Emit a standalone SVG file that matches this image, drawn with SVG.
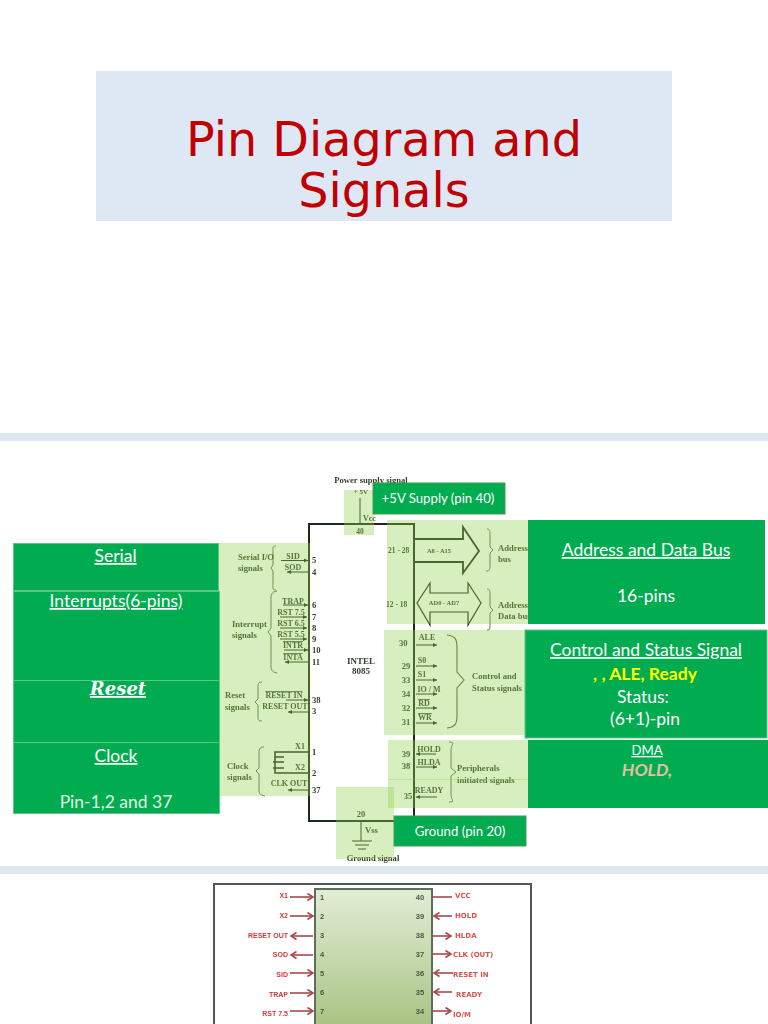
<svg xmlns="http://www.w3.org/2000/svg" width="768" height="1024" viewBox="0 0 768 1024">
<style>
.g{fill:#00ac4f}
.gs{stroke:#5cc688;stroke-width:1}
.t{font-family:Lato,"Open Sans",sans-serif;font-size:17.5px;fill:#fff;text-anchor:middle}
.sm{font-size:13.2px}
.tp{fill:#e3f5e6}
.u{text-decoration:underline}
.f{font-family:"Liberation Serif",serif;font-weight:bold;font-size:8.6px;fill:#333f2a}
.fm{text-anchor:middle}
.l{fill:none;stroke:#1f2a1a;stroke-width:1}
.thin{stroke-width:1.1}
.b{fill:none;stroke:#4d6042;stroke-width:.9}
.rg{fill:#92d050;opacity:.37}
.r{font-family:"Liberation Sans",sans-serif;font-weight:bold;font-size:7px;fill:#cf3a3a;text-anchor:end}
.rs{font-family:"DejaVu Sans",sans-serif;font-weight:bold;font-size:7px;fill:#d9534f}
.n{font-family:"Liberation Sans",sans-serif;font-size:7.5px;font-weight:bold;fill:#4a5540;text-anchor:middle}
.a{fill:none;stroke:#a8484a;stroke-width:1.6}
</style>
<defs>
<linearGradient id="chip" x1="0" y1="0" x2="0" y2="1"><stop offset="0" stop-color="#e2edd6"/><stop offset="1" stop-color="#a3c07c"/></linearGradient>
<marker id="h" markerWidth="5" markerHeight="5" refX="4" refY="2.5" orient="auto" markerUnits="userSpaceOnUse"><path d="M0 .5L4 2.5L0 4.500z" fill="#1f2a1a"/></marker>
<marker id="rh" markerWidth="9" markerHeight="9" refX="6.5" refY="4.5" orient="auto" markerUnits="userSpaceOnUse"><path d="M1 1L6.500 4.500L1 8" fill="none" stroke="#a8484a" stroke-width="1.6"/></marker>
<filter id="soft" x="-5%" y="-5%" width="110%" height="110%"><feGaussianBlur stdDeviation="0.42"/></filter>
</defs>
<rect width="768" height="1024" fill="#fff"/>
<g id="title">
<rect x="96" y="71" width="576" height="150" fill="#dde8f4"/>
<text x="384" y="156" font-family="'DejaVu Sans',sans-serif" font-size="47.700" fill="#c00000" text-anchor="middle">Pin Diagram and</text>
<text x="384" y="207" font-family="'DejaVu Sans',sans-serif" font-size="47.700" fill="#c00000" text-anchor="middle">Signals</text>
</g>
<g id="bands">
<rect x="0" y="433" width="768" height="8" fill="#dde8f4"/>
<rect x="0" y="866" width="768" height="8" fill="#dde8f4"/>
</g>
<g id="connectors" filter="url(#soft)">
<path class="l" style="stroke-width:2" d="M394 821H309V524H414V821"/>
<path class="l" d="M360 498V524M361 821V841M352 841H372M355 845H369M358 849H366"/>
<path class="l" d="M281 560.500H308" marker-end="url(#h)"/><path class="l" d="M308 572H287" marker-end="url(#h)"/>
<path class="l" d="M283 605H308" marker-end="url(#h)"/><path class="l" d="M280 617H307" marker-end="url(#h)"/><path class="l" d="M280 628H307" marker-end="url(#h)"/><path class="l" d="M280 639H307" marker-end="url(#h)"/><path class="l" d="M284 650H308" marker-end="url(#h)"/><path class="l" d="M308 662H285" marker-end="url(#h)"/>
<path class="l" d="M286 700H308" marker-end="url(#h)"/><path class="l" d="M308 712H288" marker-end="url(#h)"/><path class="l" d="M308 790H288" marker-end="url(#h)"/>
<path class="l" d="M416 645H437" marker-end="url(#h)"/><path class="l" d="M416 666H437" marker-end="url(#h)"/><path class="l" d="M416 680H437" marker-end="url(#h)"/><path class="l" d="M416 694H437" marker-end="url(#h)"/><path class="l" d="M416 708H437" marker-end="url(#h)"/><path class="l" d="M416 723H437" marker-end="url(#h)"/>
<path class="l" d="M436 754H416" marker-end="url(#h)"/><path class="l" d="M416 767H437" marker-end="url(#h)"/><path class="l" d="M437 797H416" marker-end="url(#h)"/>
<path class="l" style="stroke-width:1.6" d="M308 752H275V757H284M275 757V768M273 762H284M273 768H284M275 768V773H308"/>
<path class="l" style="stroke-width:1.8" d="M414 539H463V527L479 551L463 573V562H414"/>
<path class="l" style="stroke-width:1.2" d="M430 593V583L417 603L430 625V612H468V625L481 603L468 583V593Z"/>
<path class="b" d="M276 546C272 546 273 548 273 552V565L271 568L273 571V584C273 588 272 590 276 590"/>
<path class="b" d="M277 591C271 592 271 595 271 600V628L268 632L271 636V664C271 669 271 672 277 673"/>
<path class="b" d="M262 682C258 682 258 684 258 688V699L255 702L258 705V716C258 720 258 721 262 721"/>
<path class="b" d="M264 747C259 747 259 750 259 754V768L256 771L259 774V788C259 793 259 795 265 796"/>
<path class="b" d="M487 529C490 529 490 531 490 535V547L493 550L490 553V565C490 569 490 571 486 571"/>
<path class="b" d="M487 589C490 589 490 591 490 595V607L493 610L490 613V625C490 629 490 630 487 630"/>
<path class="b" style="stroke-width:1.1" d="M447 635C456 636 457 640 457 648V672L464 680L457 688V715C457 723 456 727 447 728"/>
<path class="b" d="M449 742C456 742 451 745 451 750V768L456 772L451 776V795C451 800 456 802 449 802"/>
</g>
<g id="figure-labels" filter="url(#soft)">
<text class="f fm" x="371" y="483">Power supply signal</text>
<text class="f fm" x="361" y="494" style="font-size:7px">+ 5V</text><text class="f" x="363" y="521" style="font-size:8px">Vcc</text><text class="f fm" x="360" y="534" style="font-size:7.500px">40</text>
<text class="f" x="238" y="560">Serial I/O</text><text class="f" x="238" y="571">signals</text>
<text class="f" x="232" y="627">Interrupt</text><text class="f" x="232" y="638">signals</text>
<text class="f" x="225" y="698">Reset</text><text class="f" x="225" y="710">signals</text>
<text class="f" x="227" y="769">Clock</text><text class="f" x="227" y="780">signals</text>
<text class="f fm" x="293" y="559" style="font-size:8px">SID</text><text class="f fm" x="293" y="570" style="font-size:8px">SOD</text>
<text class="f fm" x="293" y="604" style="font-size:8px">TRAP</text><text class="f fm" x="291" y="615" style="font-size:8px">RST 7.5</text><text class="f fm" x="291" y="626" style="font-size:8px">RST 6.5</text><text class="f fm" x="291" y="637" style="font-size:8px">RST 5.5</text><text class="f fm" x="293" y="648" style="font-size:8px" text-decoration="overline">INTR</text><text class="f fm" x="293" y="660" style="font-size:8px" text-decoration="overline">INTA</text>
<text class="f fm" x="284" y="698" style="font-size:8px" text-decoration="overline">RESET IN</text><text class="f fm" x="285" y="709" style="font-size:8px">RESET OUT</text>
<text class="f fm" x="300" y="749" style="font-size:8px">X1</text><text class="f fm" x="300" y="770" style="font-size:8px">X2</text><text class="f fm" x="289" y="786" style="font-size:8px">CLK OUT</text>
<g style="font-size:8px"><text class="f" x="312" y="563">5</text><text class="f" x="312" y="575">4</text><text class="f" x="312" y="608">6</text><text class="f" x="312" y="620">7</text><text class="f" x="312" y="631">8</text><text class="f" x="312" y="642">9</text><text class="f" x="312" y="653">10</text><text class="f" x="312" y="665">11</text><text class="f" x="312" y="703">38</text><text class="f" x="312" y="714">3</text><text class="f" x="312" y="755">1</text><text class="f" x="312" y="776">2</text><text class="f" x="312" y="793">37</text></g>
<text class="f fm" x="361" y="817">20</text><text class="f" x="365" y="833">Vss</text><text class="f fm" x="373" y="861">Ground signal</text>
<text class="f" x="388" y="553" style="font-size:7.500px">21 - 28</text><text class="f" x="386" y="607" style="font-size:7.500px">12 - 18</text>
<text class="f fm" x="439" y="553" style="font-size:6.500px">A8 - A15</text><text class="f fm" x="444" y="605" style="font-size:6.500px">AD0 - AD7</text>
<text class="f" x="498" y="551">Address</text><text class="f" x="498" y="562">bus</text><text class="f" x="498" y="608">Address</text><text class="f" x="498" y="619">Data bus</text>
<text class="f" x="399" y="646">30</text><text class="f fm" x="406" y="669">29</text><text class="f fm" x="406" y="683">33</text><text class="f fm" x="406" y="697">34</text><text class="f fm" x="406" y="711">32</text><text class="f fm" x="406" y="725">31</text>
<text class="f fm" x="427" y="640" style="font-size:8px">ALE</text><text class="f fm" x="422" y="663" style="font-size:8px">S0</text><text class="f fm" x="422" y="677" style="font-size:8px">S1</text><text class="f fm" x="429" y="692" style="font-size:8px">IO / M</text><text class="f fm" x="424" y="706" style="font-size:8px" text-decoration="overline">RD</text><text class="f fm" x="425" y="720" style="font-size:8px" text-decoration="overline">WR</text>
<text class="f" x="472" y="679">Control and</text><text class="f" x="472" y="691">Status signals</text>
<text class="f fm" x="406" y="757">39</text><text class="f fm" x="406" y="769">38</text><text class="f fm" x="408" y="799">35</text>
<text class="f fm" x="429" y="752" style="font-size:8px">HOLD</text><text class="f fm" x="429" y="765" style="font-size:8px">HLDA</text><text class="f fm" x="429" y="793" style="font-size:8px">READY</text>
<text class="f" x="457" y="771">Peripherals</text><text class="f" x="457" y="783">initiated signals</text>
<text class="f fm" x="361" y="664" style="font-size:9px">INTEL</text><text class="f fm" x="361" y="674" style="font-size:9px">8085</text>
</g>
<g id="highlights">
<rect class="rg" x="219" y="543" width="91" height="135"/>
<rect class="rg" x="220" y="678" width="90" height="118"/>
<rect class="rg" x="344" y="490" width="30" height="45"/>
<rect class="rg" x="387" y="520" width="141" height="104"/>
<rect class="rg" x="384" y="630" width="141" height="105"/>
<rect class="rg" x="388" y="740" width="140" height="40"/>
<rect class="rg" x="388" y="779" width="140" height="29"/>
<rect class="rg" x="336" y="787" width="58" height="72"/>
</g>
<g id="power-box"><rect class="g" x="373" y="483" width="132" height="31" stroke="#4a9a55"/><text class="t sm" x="438" y="503">+5V Supply (pin 40)</text></g>
<g id="ground-box"><rect class="g" x="394" y="816" width="132" height="30" stroke="#4a9a55"/><text class="t sm" x="460" y="836">Ground (pin 20)</text></g>
<g id="serial"><rect class="g gs" x="13.500" y="543.500" width="205" height="47"/><text class="t u" x="115.500" y="562">Serial</text></g>
<g id="interrupts"><rect class="g gs" x="13.500" y="591.500" width="206" height="89"/><text class="t u" x="116" y="607">Interrupts(6-pins)</text></g>
<g id="reset"><rect class="g gs" x="13.500" y="680.500" width="206" height="62"/><text x="118" y="695" font-family="'DejaVu Serif',serif" font-weight="bold" font-style="italic" font-size="18" fill="#fff" text-anchor="middle" text-decoration="underline">Reset</text></g>
<g id="clock"><rect class="g gs" x="13.500" y="742.500" width="206" height="71"/><text class="t u" x="116" y="762">Clock</text><text class="t tp" x="116" y="808">Pin-1,2 and 37</text></g>
<g id="address-bus"><rect class="g" x="528" y="520" width="237" height="104"/><text class="t u" x="646" y="556">Address and Data Bus</text><text class="t" x="646" y="602">16-pins</text></g>
<g id="control-status"><rect class="g gs" x="525" y="630" width="242" height="108"/><text class="t u" x="646" y="656">Control and Status Signal</text><text class="t" x="645" y="680" style="fill:#ffff00;font-weight:bold">, , ALE, Ready</text><text class="t" x="643" y="703">Status:</text><text class="t" x="645" y="725">(6+1)-pin</text></g>
<g id="dma"><rect class="g" x="528" y="740" width="240" height="68"/><text class="t u sm" x="647" y="755">DMA</text><text class="t" x="647" y="776" style="fill:#e6bfa8;font-weight:bold;font-style:italic">HOLD,</text></g>
<g id="pinout" filter="url(#soft)">
<rect x="214" y="884" width="317" height="160" fill="#fff" stroke="#555" stroke-width="2"/>
<rect x="315" y="889" width="117" height="150" fill="url(#chip)" stroke="#5d6e5d" stroke-width="2"/>
<path class="a" d="M290 897H313" marker-end="url(#rh)"/><path class="a" d="M290 916H313" marker-end="url(#rh)"/><path class="a" d="M313 936H291" marker-end="url(#rh)"/><path class="a" d="M313 955H291" marker-end="url(#rh)"/><path class="a" d="M290 973H313" marker-end="url(#rh)"/><path class="a" d="M290 993H313" marker-end="url(#rh)"/><path class="a" d="M290 1011H313" marker-end="url(#rh)"/>
<path class="a" d="M433 897H452"/><path class="a" d="M452 916H434" marker-end="url(#rh)"/><path class="a" d="M433 936H451" marker-end="url(#rh)"/><path class="a" d="M433 954H451" marker-end="url(#rh)"/><path class="a" d="M453 973H434" marker-end="url(#rh)"/><path class="a" d="M452 992H434" marker-end="url(#rh)"/><path class="a" d="M433 1011H451" marker-end="url(#rh)"/>
<text class="r" x="288" y="898">X1</text><text class="r" x="288" y="918">X2</text><text class="r" x="288" y="937.500">RESET OUT</text><text class="r" x="288" y="957">SOD</text><text class="r" x="288" y="977">SID</text><text class="r" x="288" y="997">TRAP</text><text class="r" x="288" y="1016">RST 7.5</text>
<text class="rs" x="455" y="898">VCC</text><text class="rs" x="455" y="918">HOLD</text><text class="rs" x="455" y="938">HLDA</text><text class="rs" x="453" y="957">CLK (OUT)</text><text class="rs" x="453" y="977">RESET IN</text><text class="rs" x="456" y="997">READY</text><text class="rs" x="453" y="1017">IO/M</text>
<text class="n" x="322" y="900">1</text><text class="n" x="322" y="919">2</text><text class="n" x="322" y="938">3</text><text class="n" x="322" y="957">4</text><text class="n" x="322" y="976">5</text><text class="n" x="322" y="995">6</text><text class="n" x="322" y="1014">7</text>
<text class="n" x="420" y="900">40</text><text class="n" x="420" y="919">39</text><text class="n" x="420" y="938">38</text><text class="n" x="420" y="957">37</text><text class="n" x="420" y="976">36</text><text class="n" x="420" y="995">35</text><text class="n" x="420" y="1014">34</text>
</g>
</svg>
